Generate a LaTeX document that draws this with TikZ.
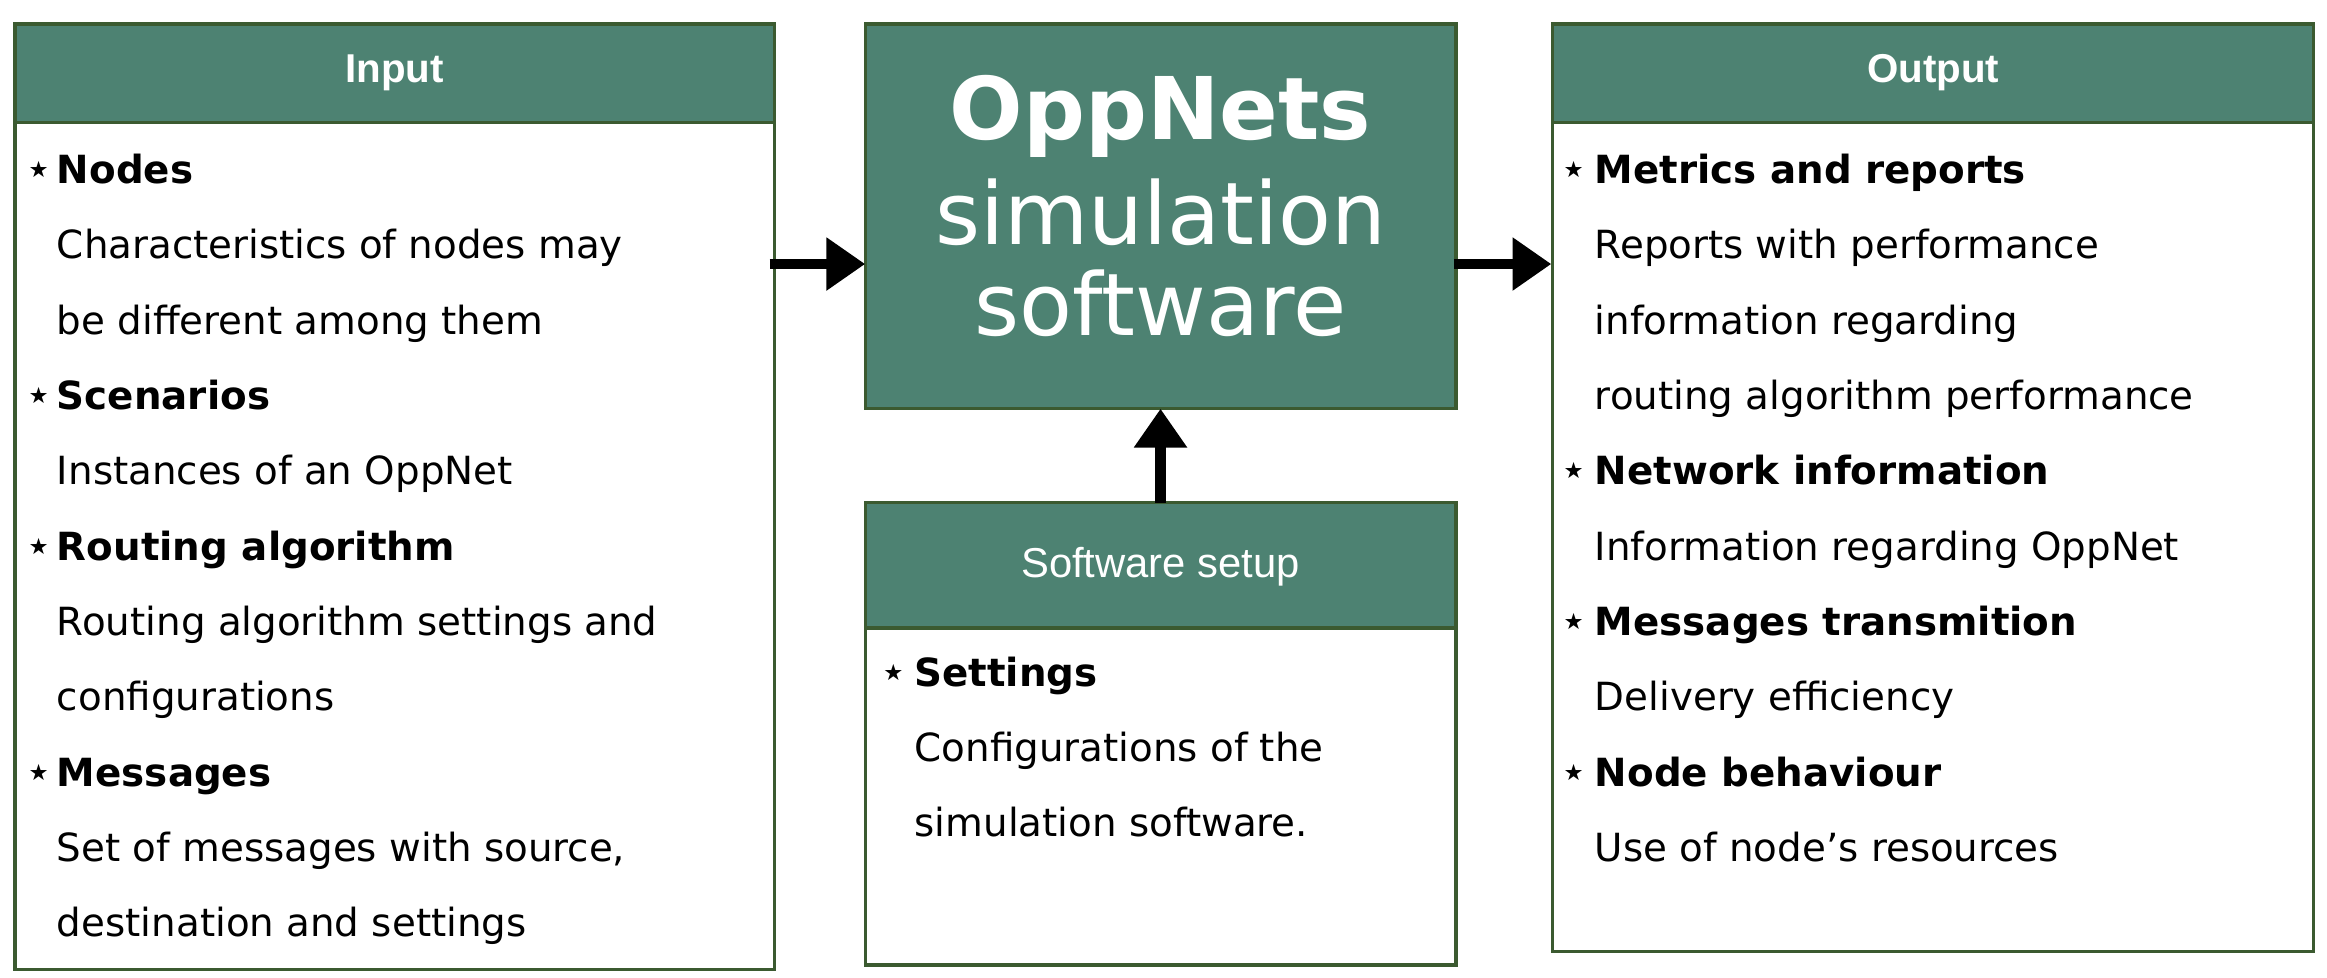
\documentclass[tikz,border=0pt]{standalone}
\usepackage{fontspec}
\setmainfont{DejaVu Sans}
\newfontfamily\hdfont{Liberation Sans}
\usetikzlibrary{arrows.meta}
\definecolor{teal1}{HTML}{4D8272}
\definecolor{edge}{HTML}{3B5A30}
\tikzset{
 box/.style={draw=edge,line width=2.2pt,fill=white},
 head/.style={draw=edge,line width=2.2pt,fill=teal1},
 htext/.style={text=white,font=\hdfont\fontsize{27}{30}\selectfont},
 item/.style={anchor=base west,inner sep=0,font=\fontsize{26}{30}\selectfont\bfseries},
 line/.style={anchor=base west,inner sep=0,font=\fontsize{26}{30}\selectfont},
 st/.style={anchor=base west,inner sep=0,font=\fontsize{15}{15}\selectfont},
 bigarrow/.style={line width=7pt,-{Triangle[length=26pt,width=34pt]}}
}
\begin{document}
\begin{tikzpicture}[x=1pt,y=-1pt]
\useasboundingbox (0,0) rectangle (1560,655);
% Input
\draw[box] (10,16) rectangle (519,650);
\draw[head] (10,16) rectangle (519,82);
\node[htext] (inh) at (264.5,49) {\textbf{Input}};
\foreach \k/\s/\t in {0/1/{Nodes},1/0/{Characteristics of nodes may},2/0/{be different among them},3/1/{Scenarios},4/0/{Instances of an OppNet},5/1/{Routing algorithm},6/0/{Routing algorithm settings and},7/0/{configurations},8/1/{Messages},9/0/{Set of messages with source,},10/0/{destination and settings}}{
 \ifnum\s=1
  \node[st] at (19,{123+50.5*\k-4}) {★};
  \node[item] at (38,{123+50.5*\k}) {\t};
 \else
  \node[line] at (38,{123+50.5*\k}) {\t};
 \fi}
% Center
\draw[head] (580,16) rectangle (976,274);
\node[text=white,font=\fontsize{58}{60}\selectfont\bfseries] (t1) at (778,78) {OppNets};
\node[text=white,font=\fontsize{58}{60}\selectfont] (t2) at (778,142) {simulation};
\node[text=white,font=\fontsize{58}{60}\selectfont] (t3) at (778,203) {software};
\coordinate (cB) at (778,274);
% Software setup
\draw[box] (580,337) rectangle (976,647);
\draw[head] (580,337) rectangle (976,421);
\node[text=white,font=\hdfont\fontsize{28}{30}\selectfont] (sh) at (778,380) {Software setup};
\coordinate (sT) at (778,337);
\node[st] at (592,456) {★};
\node[item] at (613,460) {Settings};
\node[line] at (613,510.5) {Configurations of the};
\node[line] at (613,561) {simulation software.};
% Output
\draw[box] (1041,16) rectangle (1551,638);
\draw[head] (1041,16) rectangle (1551,82);
\node[htext] (outh) at (1296,49) {\textbf{Output}};
\foreach \k/\s/\t in {0/1/{Metrics and reports},1/0/{Reports with performance},2/0/{information regarding},3/0/{routing algorithm performance},4/1/{Network information},5/0/{Information regarding OppNet},6/1/{Messages transmition},7/0/{Delivery efficiency},8/1/{Node behaviour},9/0/{Use of node's resources}}{
 \ifnum\s=1
  \node[st] at (1048,{123+50.5*\k-4}) {★};
  \node[item] at (1069,{123+50.5*\k}) {\t};
 \else
  \node[line] at (1069,{123+50.5*\k}) {\t};
 \fi}
% arrows
\coordinate (a1) at (516,177); \coordinate (a2) at (580,177);
\coordinate (b1) at (975,177); \coordinate (b2) at (1040,177);
\draw[bigarrow] (a1) -- (a2);
\draw[bigarrow] (b1) -- (b2);
\draw[bigarrow] (sT) -- (cB);
\end{tikzpicture}
\end{document}
